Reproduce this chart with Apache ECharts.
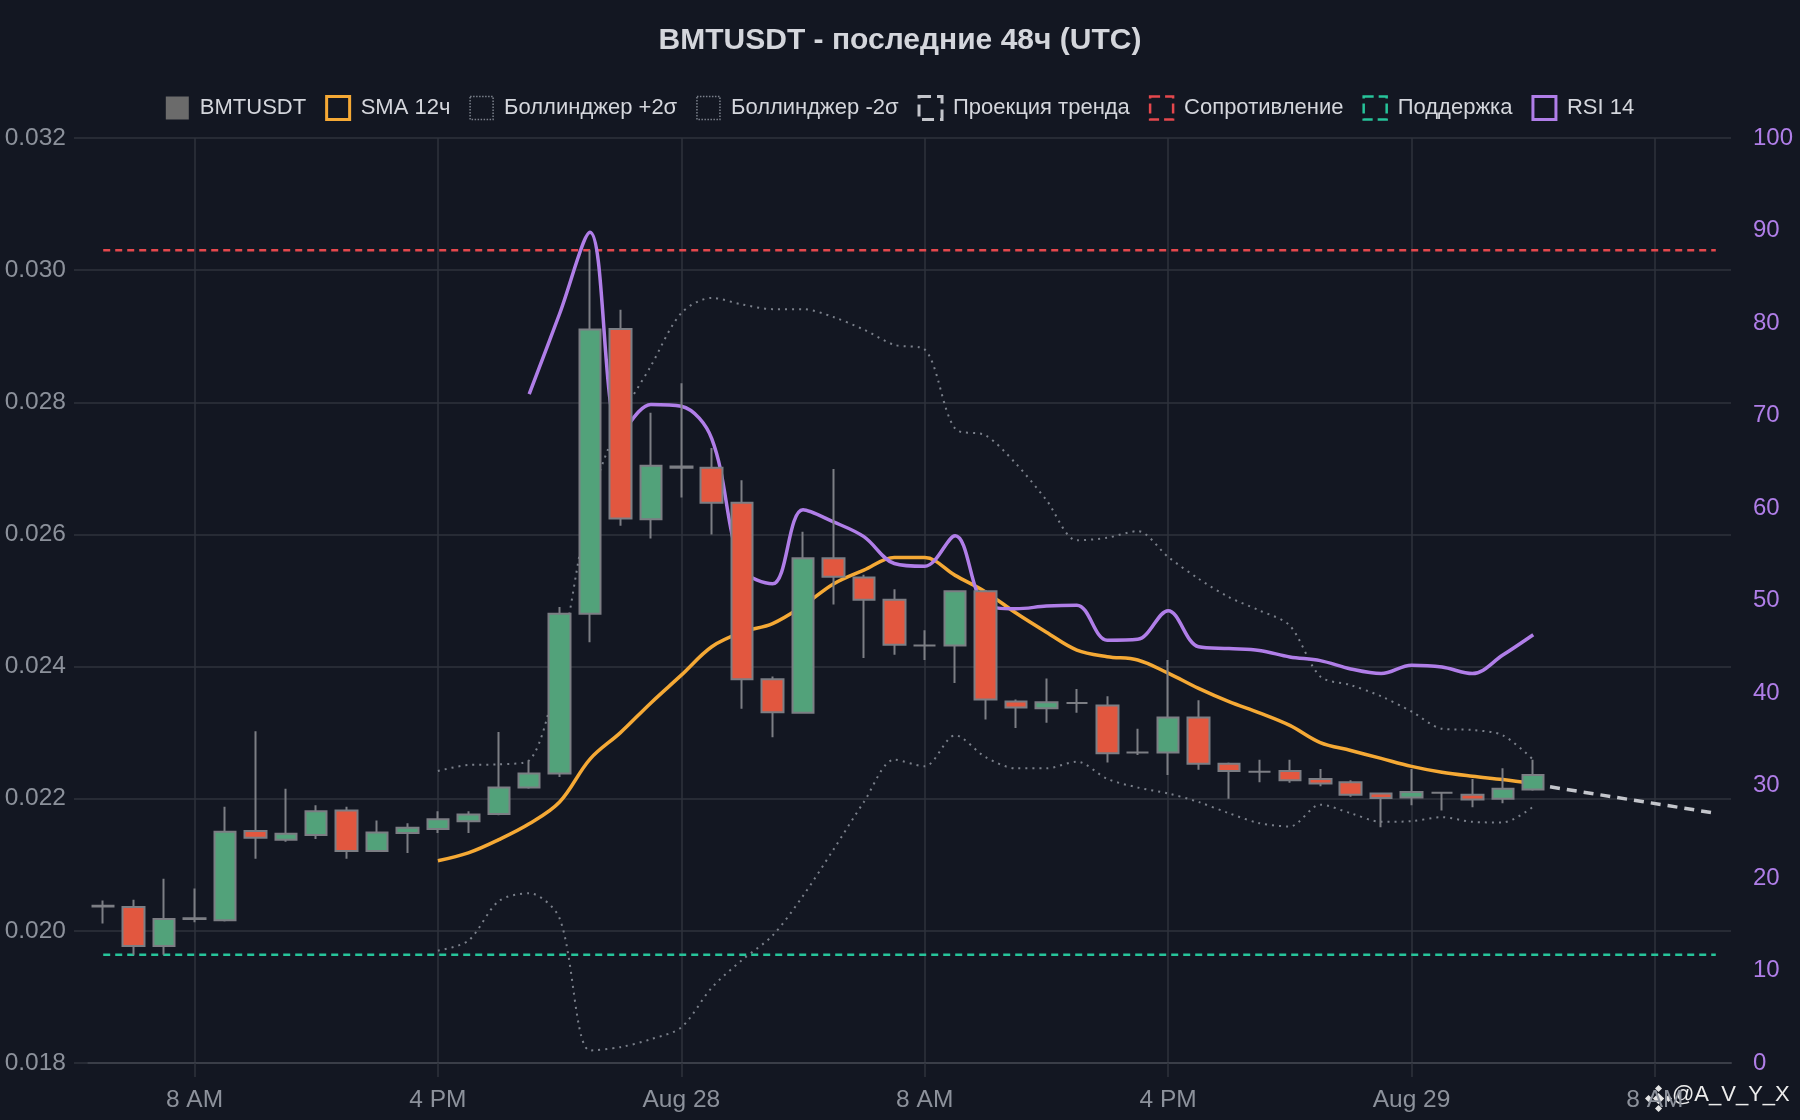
<!DOCTYPE html>
<html>
<head>
<meta charset="utf-8">
<script src="https://cdn.jsdelivr.net/npm/echarts@6/dist/echarts.min.js"></script>
<style>
  html, body { margin: 0; padding: 0; background: #131722; }
  #chart { width: 1800px; height: 1120px; }
</style>
</head>
<body>
<div id="chart"></div>
<script>
// hours counted from Aug 27 00:00 UTC
const candleHours = [5, 6, 7, 8, 9, 10, 11, 12, 13, 14, 15, 16, 17, 18, 19, 20, 21, 22, 23, 24,
  25, 26, 27, 28, 29, 30, 31, 32, 33, 34, 35, 36, 37, 38, 39, 40, 41, 42, 43, 44,
  45, 46, 47, 48, 49, 50, 51, 52];
const candleOpen = [0.02038, 0.02036, 0.01977, 0.02018, 0.02016, 0.02151, 0.02138, 0.02145, 0.02182, 0.02121,
  0.02148, 0.02154, 0.02166, 0.02177, 0.02217, 0.02238, 0.0248, 0.02911, 0.02623, 0.02703,
  0.02701, 0.02648, 0.02381, 0.0233, 0.02564, 0.02535, 0.02501, 0.02432, 0.02432, 0.02514,
  0.02347, 0.02337, 0.02345, 0.02341, 0.0227, 0.0227, 0.02323, 0.02253, 0.02241, 0.02242,
  0.0223, 0.02225, 0.02208, 0.02202, 0.02209, 0.02206, 0.022, 0.02214];
const candleHigh = [0.02046, 0.02047, 0.02079, 0.02064, 0.02188, 0.02302, 0.02215, 0.0219, 0.02188, 0.02167,
  0.02163, 0.02181, 0.02181, 0.02301, 0.02258, 0.0249, 0.0303, 0.0294, 0.02784, 0.02829,
  0.02731, 0.02682, 0.02385, 0.02604, 0.02699, 0.02539, 0.02517, 0.02455, 0.02514, 0.02516,
  0.0235, 0.02382, 0.02366, 0.02355, 0.02306, 0.0241, 0.02349, 0.02255, 0.02259, 0.02259,
  0.02245, 0.02228, 0.02208, 0.02245, 0.0221, 0.0223, 0.02246, 0.02259];
const candleLow = [0.02011, 0.01964, 0.01964, 0.02013, 0.02014, 0.02109, 0.02135, 0.02139, 0.02109, 0.0212,
  0.02118, 0.02148, 0.02148, 0.02175, 0.02215, 0.02233, 0.02437, 0.02613, 0.02594, 0.02656,
  0.026, 0.02336, 0.02293, 0.02329, 0.02494, 0.02413, 0.02418, 0.0241, 0.02375, 0.0232,
  0.02307, 0.02315, 0.0233, 0.02255, 0.02266, 0.02236, 0.02244, 0.022, 0.02225, 0.02224,
  0.02219, 0.02203, 0.02157, 0.0219, 0.02182, 0.02187, 0.02193, 0.02212];
const candleClose = [0.02037, 0.01977, 0.02018, 0.02019, 0.0215, 0.02141, 0.02147, 0.02181, 0.02121, 0.02149,
  0.02156, 0.02169, 0.02176, 0.02217, 0.02238, 0.0248, 0.0291, 0.02624, 0.02704, 0.02701,
  0.02648, 0.02381, 0.02331, 0.02564, 0.02536, 0.02501, 0.02433, 0.02432, 0.02514, 0.0235,
  0.02338, 0.02346, 0.02345, 0.02269, 0.0227, 0.02323, 0.02253, 0.02242, 0.02241, 0.02228,
  0.02223, 0.02206, 0.02201, 0.0221, 0.02209, 0.02199, 0.02215, 0.02236];

const smaHours = [16, 17, 18, 19, 20, 21, 22, 23, 24, 25, 26, 27, 28, 29, 30, 31, 32, 33, 34, 35,
  36, 37, 38, 39, 40, 41, 42, 43, 44, 45, 46, 47, 48, 49, 50, 51, 52];
const sma12 = [0.02106, 0.02118, 0.02138, 0.02162, 0.02195, 0.0226, 0.023, 0.02345, 0.02387, 0.0243,
  0.02452, 0.02465, 0.02492, 0.02525, 0.02546, 0.02565, 0.02565, 0.02538, 0.02513, 0.02481,
  0.02452, 0.02425, 0.02415, 0.0241, 0.0239, 0.02367, 0.02347, 0.0233, 0.02311, 0.02285,
  0.02273, 0.02261, 0.02249, 0.0224, 0.02234, 0.02229, 0.02223];
const bollUpper = [0.02242, 0.02251, 0.02252, 0.02258, 0.02405, 0.02647, 0.02774, 0.02855, 0.02935, 0.02958,
  0.02948, 0.02941, 0.02941, 0.02929, 0.0291, 0.02887, 0.0288, 0.0276, 0.0275, 0.02707,
  0.02652, 0.02591, 0.02595, 0.02605, 0.02566, 0.02533, 0.02505, 0.02485, 0.02462, 0.02385,
  0.02372, 0.02355, 0.02332, 0.02306, 0.02304, 0.02296, 0.02259];
const bollLower = [0.0197, 0.01985, 0.02045, 0.02057, 0.02019, 0.01819, 0.01824, 0.01836, 0.01854, 0.01914,
  0.01956, 0.01993, 0.02053, 0.02123, 0.02195, 0.02259, 0.02249, 0.02296, 0.02263, 0.02246,
  0.02246, 0.02256, 0.0223, 0.02217, 0.02208, 0.02195, 0.02178, 0.02163, 0.02158, 0.02191,
  0.02178, 0.02165, 0.02166, 0.02172, 0.02165, 0.02164, 0.02188];

const rsiHours = [19, 20, 21, 22, 23, 24, 25, 26, 27, 28, 29, 30, 31, 32, 33, 34, 35, 36, 37, 38,
  39, 40, 41, 42, 43, 44, 45, 46, 47, 48, 49, 50, 51, 52];
const rsi14 = [72.3, 81, 89.8, 68, 71.2, 71.0, 67.5, 53.5, 51.8, 59.8,
  58.5, 56.9, 54.0, 53.7, 57.0, 49.5, 49.1, 49.4, 49.5, 45.7,
  45.8, 48.9, 45.0, 44.8, 44.6, 43.9, 43.5, 42.6, 42.1, 43.0,
  42.8, 42.1, 44.1, 46.3];

const projHours = [52, 58];
const projValues = [0.02222, 0.02178];
const levelHours = [5, 58];
const resistance = 0.0303;
const support = 0.01964;

const xTickHours = [8, 16, 24, 32, 40, 48, 56];
const xTickLabels = ['8 AM', '4 PM', 'Aug 28', '8 AM', '4 PM', 'Aug 29', '8 AM'];
const priceTicks = [0.018, 0.032, 0.002];
const rsiTicks = [0, 100, 10];

const FONT = '"Liberation Sans", Arial, sans-serif';
const gridColor = '#2f333d';
const upColor = '#52a27a';
const downColor = '#e2573f';
const wickColor = '#7c7e84';
const smaColor = '#f5a935';
const rsiColor = '#b07ee8';
const bandColor = '#7b808b';
const projColor = '#c3c5cb';
const resColor = '#e5484d';
const supColor = '#27c49a';

const candleData = candleHours.map((h, i) => [h, candleOpen[i], candleClose[i], candleLow[i], candleHigh[i]]);
const pairs = (xs, ys) => xs.map((x, i) => [x, ys[i]]);

const chart = echarts.init(document.getElementById('chart'));

const legendItem = (name, fill, border, type, width) => ({
    name: name,
    icon: 'rect',
    itemStyle: {
        color: fill,
        borderColor: border,
        borderWidth: width,
        borderType: type
    }
});

const option = {
    backgroundColor: '#131722',
    animation: false,
    textStyle: { fontFamily: FONT },
    title: {
        text: 'BMTUSDT - последние 48ч (UTC)',
        left: 'center',
        top: 21,
        textStyle: { color: '#d4d6dc', fontSize: 30, fontWeight: 'bold', fontFamily: FONT }
    },
    legend: {
        top: 90,
        left: 'center',
        itemWidth: 23,
        itemHeight: 23,
        itemGap: 19,
        textStyle: { color: '#d4d6dc', fontSize: 22, fontFamily: FONT, padding: [0, 0, 0, 6] },
        data: [
            legendItem('BMTUSDT', '#6b6b6b', '#6b6b6b', 'solid', 0),
            legendItem('SMA 12ч', 'transparent', smaColor, 'solid', 3),
            legendItem('Боллинджер +2σ', 'transparent', bandColor, 'dotted', 1.5),
            legendItem('Боллинджер -2σ', 'transparent', bandColor, 'dotted', 1.5),
            legendItem('Проекция тренда', 'transparent', projColor, 'dashed', 3),
            legendItem('Сопротивление', 'transparent', resColor, 'dashed', 2.5),
            legendItem('Поддержка', 'transparent', supColor, 'dashed', 2.5),
            legendItem('RSI 14', 'transparent', rsiColor, 'solid', 3)
        ]
    },
    grid: { left: 88, right: 69, top: 138, bottom: 57 },
    xAxis: {
        type: 'value',
        min: 4.5,
        max: 58.5,
        axisLine: { show: true, lineStyle: { color: '#3a3e48', width: 2 } },
        axisTick: {
            show: true,
            length: 14,
            customValues: xTickHours,
            lineStyle: { color: gridColor, width: 1.5 }
        },
        axisLabel: {
            customValues: xTickHours,
            color: '#8c919b',
            fontSize: 24.5,
            margin: 25,
            fontFamily: FONT,
            formatter: v => xTickLabels[xTickHours.indexOf(v)] || ''
        },
        splitLine: { show: true, lineStyle: { color: gridColor, width: 1.5 } }
    },
    yAxis: [
        {
            type: 'value',
            min: priceTicks[0],
            max: priceTicks[1],
            interval: priceTicks[2],
            axisLine: { show: false },
            axisTick: { show: true, length: 14, lineStyle: { color: gridColor, width: 1.5 } },
            axisLabel: {
                color: '#8c919b',
                fontSize: 24.5,
                margin: 22,
                fontFamily: FONT,
                formatter: v => v.toFixed(3)
            },
            splitLine: { lineStyle: { color: gridColor, width: 1.5 } }
        },
        {
            type: 'value',
            position: 'right',
            min: rsiTicks[0],
            max: rsiTicks[1],
            interval: rsiTicks[2],
            axisLine: { show: false },
            axisTick: { show: false },
            splitLine: { show: false },
            axisLabel: { color: rsiColor, fontSize: 24, margin: 22, fontFamily: FONT }
        }
    ],
    series: [
        {
            name: 'Боллинджер +2σ',
            type: 'line',
            data: pairs(smaHours, bollUpper),
            showSymbol: false,
            smooth: 0.3,
            z: 1,
            itemStyle: { color: bandColor },
            lineStyle: { color: bandColor, width: 2, type: [2, 5] }
        },
        {
            name: 'Боллинджер -2σ',
            type: 'line',
            data: pairs(smaHours, bollLower),
            showSymbol: false,
            smooth: 0.3,
            z: 1,
            itemStyle: { color: bandColor },
            lineStyle: { color: bandColor, width: 2, type: [2, 5] }
        },
        {
            name: 'Сопротивление',
            type: 'line',
            data: levelHours.map(h => [h, resistance]),
            showSymbol: false,
            z: 1,
            itemStyle: { color: resColor },
            lineStyle: { color: resColor, width: 2.5, type: [7, 5] }
        },
        {
            name: 'Поддержка',
            type: 'line',
            data: levelHours.map(h => [h, support]),
            showSymbol: false,
            z: 1,
            itemStyle: { color: supColor },
            lineStyle: { color: supColor, width: 2.5, type: [7, 5] }
        },
        {
            name: 'SMA 12ч',
            type: 'line',
            data: pairs(smaHours, sma12),
            showSymbol: false,
            smooth: 0.35,
            z: 2,
            itemStyle: { color: smaColor },
            lineStyle: { color: smaColor, width: 3.5 }
        },
        {
            name: 'Проекция тренда',
            type: 'line',
            data: pairs(projHours, projValues),
            showSymbol: false,
            z: 2,
            itemStyle: { color: projColor },
            lineStyle: { color: projColor, width: 3.5, type: [10, 7] }
        },
        {
            name: 'RSI 14',
            type: 'line',
            yAxisIndex: 1,
            data: pairs(rsiHours, rsi14),
            showSymbol: false,
            smooth: 0.35,
            z: 2,
            itemStyle: { color: rsiColor },
            lineStyle: { color: rsiColor, width: 3.5 }
        },
        {
            name: 'BMTUSDT',
            type: 'candlestick',
            data: candleData,
            encode: { x: 0, y: [1, 2, 3, 4] },
            barWidth: 22,
            z: 5,
            itemStyle: {
                color: upColor,
                color0: downColor,
                borderColor: wickColor,
                borderColor0: wickColor,
                borderColorDoji: wickColor,
                borderWidth: 2
            }
        }
    ],
    graphic: [
        {
            type: 'group',
            left: 1645,
            top: 1085,
            children: [
                { type: 'rect', shape: { x: -4, y: -4, width: 8, height: 8 }, rotation: Math.PI / 4, x: 11, y: 12, style: { fill: '#e6e6e6' } },
                { type: 'rect', shape: { x: -2.5, y: -2.5, width: 5, height: 5 }, rotation: Math.PI / 4, x: 11, y: 2, style: { fill: '#e6e6e6' } },
                { type: 'rect', shape: { x: -2.5, y: -2.5, width: 5, height: 5 }, rotation: Math.PI / 4, x: 11, y: 22, style: { fill: '#e6e6e6' } },
                { type: 'rect', shape: { x: -2.5, y: -2.5, width: 5, height: 5 }, rotation: Math.PI / 4, x: 1, y: 12, style: { fill: '#e6e6e6' } },
                { type: 'rect', shape: { x: -2.5, y: -2.5, width: 5, height: 5 }, rotation: Math.PI / 4, x: 21, y: 12, style: { fill: '#e6e6e6' } }
            ]
        },
        {
            type: 'text',
            left: 1672,
            top: 1084,
            style: { text: '@A_V_Y_X', fill: '#ececec', fontSize: 22, fontFamily: FONT }
        }
    ]
};

chart.setOption(option);
</script>
</body>
</html>
